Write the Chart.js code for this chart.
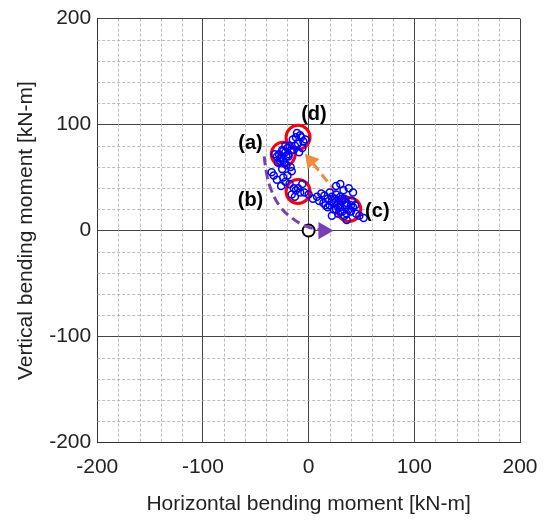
<!DOCTYPE html>
<html>
<head>
<meta charset="utf-8">
<script src="https://cdn.jsdelivr.net/npm/chart.js@4.4.1/dist/chart.umd.min.js"></script>
<style>
  html, body { margin: 0; padding: 0; background: #fff; }
  #wrap { width: 550px; height: 522px; }
</style>
</head>
<body>
<div id="wrap"><canvas id="chart"></canvas></div>
<script>
// Axis ticks
const tickValues = [-200, -100, 0, 100, 200];

// Measured moments (blue open circles)
const momentX = [-12, -8, -15, -5, -10, -18, -6, -14, -3, -9, -20, -24, -28, -30, -26, -22, -19, -27, -32, -23,
  -21, -17, -25, -29, -16, -20, -24, -30, -35, -33, -22, -18, -26, -14, -12, -8, -16, -10, -6, -13,
  -4, 0, 4, 8, 12, 15, 18, 22, 25, 20, 28, 30, 32, 26, 35, 38, 40, 42, 36, 30,
  24, 18, 14, 10, 33, 45, 48, 52, 44, 34, 28, 22, 16, 38, 42, 30, 26, 20, 32, 36,
  -11, -7, -13, -16, -22, -25, -27, -21, -24, -19, 24, 28, 32, 36, 40, 34, 30, 26, 22, 41];
const momentY = [88, 90, 86, 84, 82, 80, 78, 76, 86, 74, 78, 75, 72, 70, 68, 74, 70, 66, 72, 64,
  62, 60, 58, 64, 56, 52, 50, 48, 55, 52, 46, 44, 42, 40, 38, 36, 34, 40, 44, 32,
  36, 34, 30, 32, 35, 33, 30, 28, 30, 24, 26, 22, 28, 34, 24, 20, 18, 22, 16, 18,
  20, 22, 26, 28, 38, 16, 14, 12, 24, 14, 16, 14, 24, 40, 36, 44, 42, 36, 30, 10,
  92, 88, 80, 76, 80, 76, 68, 70, 66, 72, 26, 22, 18, 26, 24, 30, 32, 20, 32, 28];

// Highlighted states (red circles)
const highlightX = [-24, -10, -10, 38];
const highlightY = [72, 37, 88, 20];

// Labels
const labelText = ['(a)', '(b)', '(c)', '(d)'];
const labelX = [-55, -55, 65, 5];
const labelY = [82, 28, 18, 110];

// Trajectory arrows
const purpleX = [-42, -40, -36, -28, -16, -2, 14];
const purpleY = [70, 55, 40, 24, 12, 4, 0];
const orangeX = [26, 18, 10, 2];
const orangeY = [36, 46, 56, 66];

const toPts = (xs, ys) => xs.map((x, i) => ({ x: x, y: ys[i] }));
const FONT = 'Arial, "Liberation Sans", sans-serif';

const labelPlugin = {
  id: 'labels',
  beforeDatasetsDraw(chart) {
    // dashed minor grid
    const ctx = chart.ctx, a = chart.chartArea;
    const sx = chart.scales.x, sy = chart.scales.y;
    ctx.save();
    ctx.strokeStyle = '#aaa';
    ctx.lineWidth = 0.8;
    ctx.setLineDash([3, 2]);
    for (let v = -180; v < 200; v += 20) {
      if (tickValues.includes(v)) continue;
      const px = Math.round(sx.getPixelForValue(v)) + 0.5;
      const py = Math.round(sy.getPixelForValue(v)) + 0.5;
      ctx.beginPath(); ctx.moveTo(px, a.top); ctx.lineTo(px, a.bottom); ctx.stroke();
      ctx.beginPath(); ctx.moveTo(a.left, py); ctx.lineTo(a.right, py); ctx.stroke();
    }
    ctx.restore();
  },
  afterDatasetsDraw(chart) {
    const ctx = chart.ctx;
    const sx = chart.scales.x, sy = chart.scales.y;
    ctx.save();
    ctx.font = 'bold 20px ' + FONT;
    ctx.fillStyle = '#000';
    ctx.textAlign = 'center';
    ctx.textBaseline = 'middle';
    labelText.forEach((t, i) => ctx.fillText(t, sx.getPixelForValue(labelX[i]), sy.getPixelForValue(labelY[i])));
    ctx.restore();
  }
};

const majorGrid = {
  color: ctx => tickValues.includes(ctx.tick.value) ? '#444' : 'rgba(0,0,0,0)',
  lineWidth: 1,
  drawTicks: false
};

new Chart(document.getElementById('chart'), {
  type: 'scatter',
  data: {
    datasets: [
      {
        data: toPts(momentX, momentY),
        pointStyle: 'circle', pointRadius: 3.5, borderWidth: 1.5,
        borderColor: '#0000ff', backgroundColor: 'rgba(0,0,0,0)'
      },
      {
        data: toPts(purpleX, purpleY), showLine: true, tension: 0.4,
        borderColor: '#7b3fb5', borderWidth: 3, borderDash: [9, 5],
        pointRadius: purpleX.map((_, i) => i === purpleX.length - 1 ? 7 : 0),
        pointStyle: 'triangle', pointRotation: 90, backgroundColor: '#7b3fb5'
      },
      {
        data: toPts(orangeX, orangeY), showLine: true,
        borderColor: '#f08a3c', borderWidth: 3, borderDash: [9, 5],
        pointRadius: orangeX.map((_, i) => i === orangeX.length - 1 ? 6 : 0),
        pointStyle: 'triangle', pointRotation: -40, backgroundColor: '#f08a3c'
      },
      {
        data: toPts(highlightX, highlightY),
        pointStyle: 'circle', pointRadius: 12, borderWidth: 3,
        borderColor: '#ff0000', backgroundColor: 'rgba(0,0,0,0)'
      },
      {
        data: [{ x: 0, y: 0 }], pointRadius: 6, borderWidth: 2,
        borderColor: '#000', backgroundColor: '#fff'
      },
      {
        data: [{ x: 0, y: 0 }], pointRadius: 2, borderWidth: 0,
        backgroundColor: '#000'
      }
    ]
  },
  plugins: [labelPlugin],
  options: {
    responsive: true,
    maintainAspectRatio: false,
    animation: false,
    layout: { padding: { top: 8, right: 30, bottom: 5, left: 10 } },
    plugins: { legend: { display: false }, tooltip: { enabled: false } },
    scales: {
      x: {
        type: 'linear', min: -200, max: 200,
        afterBuildTicks: axis => { axis.ticks = tickValues.map(v => ({ value: v })); },
        ticks: {
          autoSkip: false, maxRotation: 0, color: '#222', padding: 12,
          font: { size: 21, family: FONT }
        },
        grid: majorGrid,
        border: { color: '#333' },
        title: {
          display: true, text: 'Horizontal bending moment [kN-m]', color: '#222',
          padding: { top: 0, bottom: 0 },
          font: { size: 21, family: FONT }
        }
      },
      y: {
        type: 'linear', min: -200, max: 200,
        afterBuildTicks: axis => { axis.ticks = tickValues.map(v => ({ value: v })); },
        ticks: {
          autoSkip: false, color: '#222', padding: 6,
          font: { size: 21, family: FONT }
        },
        grid: majorGrid,
        border: { color: '#333' },
        title: {
          display: true, text: 'Vertical bending moment [kN-m]', color: '#222',
          font: { size: 21, family: FONT }
        }
      }
    }
  }
});
</script>
</body>
</html>
